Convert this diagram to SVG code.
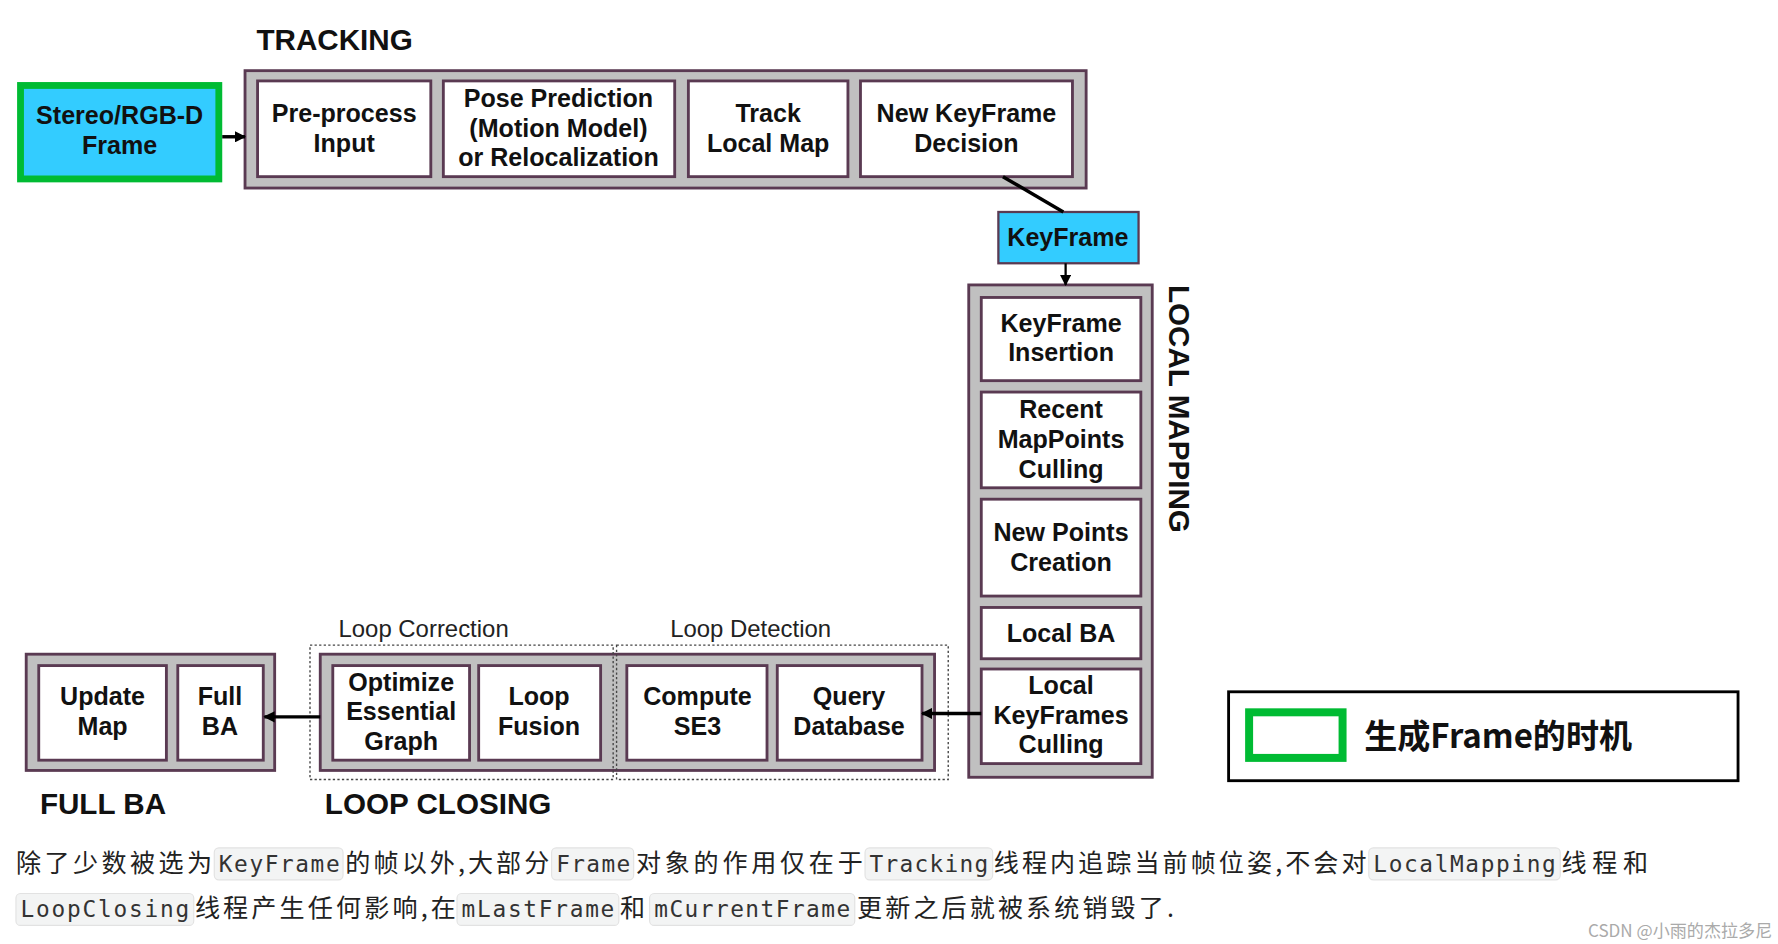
<svg xmlns="http://www.w3.org/2000/svg" width="1778" height="944" viewBox="0 0 1778 944">
<defs>
<marker id="ah" markerWidth="10" markerHeight="10" refX="9" refY="5" orient="auto" markerUnits="userSpaceOnUse"><path d="M0,0 L10,5 L0,10 z" fill="#000"/></marker>
<style>
.cont{fill:#c0c0c0;stroke:#5a3a52;stroke-width:2.5}
.box{fill:#fff;stroke:#5a3a52;stroke-width:2.5}
.cy{fill:#33ccff;stroke:#5a3a52;stroke-width:2}
.bt{font-family:"Liberation Sans",Arial,sans-serif;font-weight:bold;font-size:22px;text-anchor:middle;fill:#111}
.ti{font-family:"Liberation Sans",Arial,sans-serif;font-weight:bold;font-size:26px;fill:#111}
.lb{font-family:"Liberation Sans",Arial,sans-serif;font-size:21px;fill:#222}
.dot{fill:none;stroke:#444;stroke-width:1.2;stroke-dasharray:2,2}
.cn{font-family:"Noto Sans CJK SC",sans-serif;font-size:22px;fill:#222}
.cd{font-family:"DejaVu Sans Mono","Liberation Mono",monospace;font-size:20px;fill:#333}
.cb{fill:#f3f4f4;stroke:#e2e2e2;stroke-width:1}
</style>
</defs>
<rect width="1778" height="944" fill="#fff"/>
<g transform="scale(1.1397)">
<text class="ti" x="225" y="44">TRACKING</text>
<g id="stereo"><rect x="18" y="75" width="174" height="82" fill="#33ccff" stroke="#00bb33" stroke-width="6"/><text class="bt" x="105" y="109">Stereo/RGB-D</text><text class="bt" x="105" y="135">Frame</text></g>
<g id="tracking"><rect class="cont" x="215" y="62" width="738" height="103"/>
<g id="preprocess"><rect class="box" x="226" y="71" width="152" height="84"/><text class="bt" x="302" y="107">Pre-process</text><text class="bt" x="302" y="133">Input</text></g>
<g id="pose"><rect class="box" x="389" y="71" width="203" height="84"/><text class="bt" x="490" y="94">Pose Prediction</text><text class="bt" x="490" y="120">(Motion Model)</text><text class="bt" x="490" y="146">or Relocalization</text></g>
<g id="track"><rect class="box" x="604" y="71" width="140" height="84"/><text class="bt" x="674" y="107">Track</text><text class="bt" x="674" y="133">Local Map</text></g>
<g id="newkf"><rect class="box" x="755" y="71" width="186" height="84"/><text class="bt" x="848" y="107">New KeyFrame</text><text class="bt" x="848" y="133">Decision</text></g>
</g>
<g id="keyframe"><rect class="cy" x="876" y="186" width="123" height="45"/><text class="bt" x="937" y="216">KeyFrame</text></g>
<g id="localmapping"><rect class="cont" x="850" y="250" width="161" height="432"/>
<text class="ti" transform="translate(1026,250) rotate(90)">LOCAL MAPPING</text>
<g id="kfins"><rect class="box" x="861" y="261" width="140" height="73"/><text class="bt" x="931" y="291">KeyFrame</text><text class="bt" x="931" y="317">Insertion</text></g>
<g id="recent"><rect class="box" x="861" y="344" width="140" height="84"/><text class="bt" x="931" y="367">Recent</text><text class="bt" x="931" y="393">MapPoints</text><text class="bt" x="931" y="419">Culling</text></g>
<g id="newpts"><rect class="box" x="861" y="438" width="140" height="85"/><text class="bt" x="931" y="475">New Points</text><text class="bt" x="931" y="501">Creation</text></g>
<g id="localba"><rect class="box" x="861" y="533" width="140" height="45"/><text class="bt" x="931" y="563">Local BA</text></g>
<g id="lkfcull"><rect class="box" x="861" y="587" width="140" height="83"/><text class="bt" x="931" y="609">Local</text><text class="bt" x="931" y="635">KeyFrames</text><text class="bt" x="931" y="661">Culling</text></g>
</g>
<g id="loopclosing"><rect class="cont" x="281" y="574" width="539" height="102"/>
<rect class="dot" x="272" y="566" width="266" height="118"/><rect class="dot" x="541" y="566" width="291" height="118"/>
<text class="lb" x="297" y="559">Loop Correction</text><text class="lb" x="588" y="559">Loop Detection</text>
<g id="optimize"><rect class="box" x="292" y="584" width="120" height="83"/><text class="bt" x="352" y="606">Optimize</text><text class="bt" x="352" y="632">Essential</text><text class="bt" x="352" y="658">Graph</text></g>
<g id="fusion"><rect class="box" x="420" y="584" width="107" height="83"/><text class="bt" x="473" y="619">Loop</text><text class="bt" x="473" y="645">Fusion</text></g>
<g id="se3"><rect class="box" x="550" y="584" width="123" height="83"/><text class="bt" x="612" y="619">Compute</text><text class="bt" x="612" y="645">SE3</text></g>
<g id="query"><rect class="box" x="682" y="584" width="127" height="83"/><text class="bt" x="745" y="619">Query</text><text class="bt" x="745" y="645">Database</text></g>
<text class="ti" x="285" y="714">LOOP CLOSING</text>
</g>
<g id="fullba"><rect class="cont" x="23" y="574" width="218" height="102"/>
<g id="update"><rect class="box" x="34" y="584" width="112" height="83"/><text class="bt" x="90" y="619">Update</text><text class="bt" x="90" y="645">Map</text></g>
<g id="fba"><rect class="box" x="156" y="584" width="75" height="83"/><text class="bt" x="193" y="619">Full</text><text class="bt" x="193" y="645">BA</text></g>
<text class="ti" x="35" y="714">FULL BA</text>
</g>
<g id="connectors" stroke="#000" stroke-width="3" fill="none">
<line x1="195" y1="120" x2="215" y2="120" marker-end="url(#ah)"/>
<line x1="880" y1="155" x2="933" y2="186"/>
<line x1="935" y1="231" x2="935" y2="250" stroke-width="2" marker-end="url(#ah)"/>
<line x1="861" y1="626" x2="809" y2="626" marker-end="url(#ah)"/>
<line x1="281" y1="629" x2="232" y2="629" marker-end="url(#ah)"/>
</g>
<g id="legend"><rect x="1078" y="607" width="447" height="78" fill="#fff" stroke="#000" stroke-width="2.5"/><rect x="1096" y="625" width="82" height="40" fill="none" stroke="#00bb33" stroke-width="7"/><text x="1197" y="656" font-family="Noto Sans CJK SC,sans-serif" font-size="29" font-weight="bold" fill="#111">生成Frame的时机</text></g>
<g id="para">
<rect class="cb" x="188" y="744" width="113" height="28" rx="4"/><rect class="cb" x="484" y="744" width="72" height="28" rx="4"/><rect class="cb" x="759" y="744" width="112" height="28" rx="4"/><rect class="cb" x="1201" y="744" width="168" height="28" rx="4"/>
<rect class="cb" x="14" y="784" width="156" height="28" rx="4"/><rect class="cb" x="401" y="784" width="142" height="28" rx="4"/><rect class="cb" x="570" y="784" width="180" height="28" rx="4"/>
<text class="cn" x="14" y="765" textLength="172">除了少数被选为</text><text class="cd" x="192" y="765" textLength="106">KeyFrame</text><text class="cn" x="303" y="765" textLength="179">的帧以外,大部分</text><text class="cd" x="488" y="765" textLength="65">Frame</text><text class="cn" x="558" y="765" textLength="199">对象的作用仅在于</text><text class="cd" x="763" y="765" textLength="104">Tracking</text><text class="cn" x="872" y="765" textLength="327">线程内追踪当前帧位姿,不会对</text><text class="cd" x="1205" y="765" textLength="160">LocalMapping</text><text class="cn" x="1370" y="765" textLength="76">线程和</text>
<text class="cd" x="18" y="805" textLength="148">LoopClosing</text><text class="cn" x="171" y="805" textLength="229">线程产生任何影响,在</text><text class="cd" x="405" y="805" textLength="134">mLastFrame</text><text class="cn" x="544" y="805" textLength="24">和</text><text class="cd" x="574" y="805" textLength="172">mCurrentFrame</text><text class="cn" x="752" y="805" textLength="278">更新之后就被系统销毁了.</text>
<text x="1555" y="822" text-anchor="end" font-family="Noto Sans CJK SC,sans-serif" font-size="15" fill="#aaa">CSDN @小雨的杰拉多尼</text>
</g>
</g>
</svg>
